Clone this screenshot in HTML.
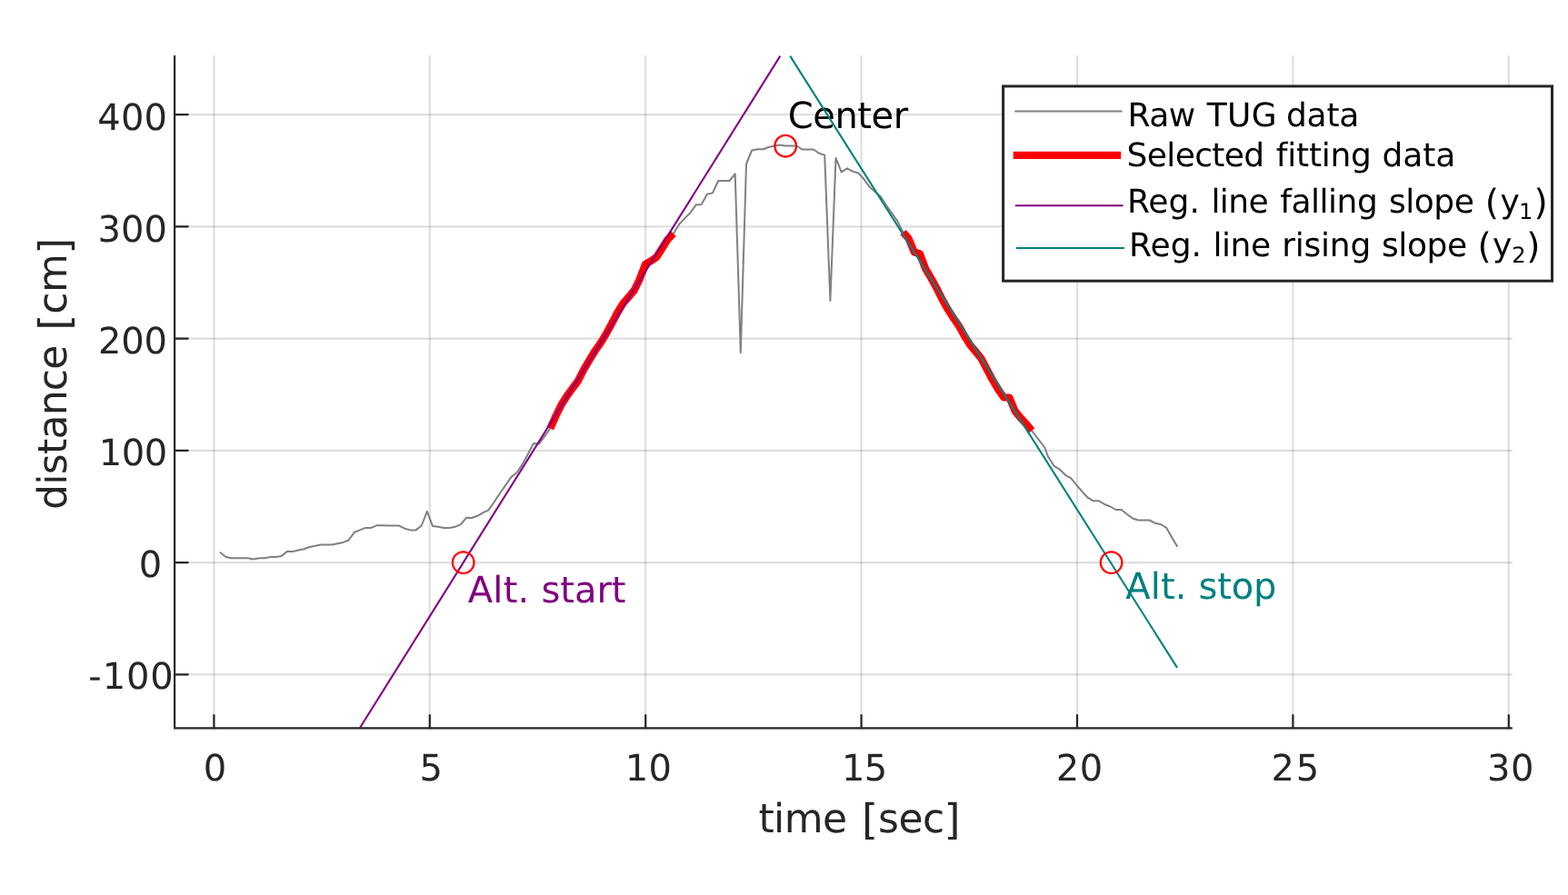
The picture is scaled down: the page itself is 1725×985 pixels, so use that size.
<!DOCTYPE html>
<html lang="en">
<head>
<meta charset="utf-8">
<title>TUG regression plot</title>
<style>
html,body{margin:0;padding:0;background:#fff;}
body{width:1725px;height:985px;overflow:hidden;}
svg{display:block;}
text{font-family:"DejaVu Sans", "Liberation Sans", sans-serif;white-space:pre;text-rendering:geometricPrecision;}
.tick{font-size:40px;fill:#262626;}
.lab{font-size:44px;fill:#262626;}
.leg{font-size:36px;fill:#000;}
.ann{font-size:40px;}
</style>
</head>
<body>
<svg width="1725" height="985" viewBox="0 0 1725 985">
<rect x="0" y="0" width="1725" height="985" fill="#ffffff"/>
<g stroke="#262626" stroke-opacity="0.15" stroke-width="2.2" fill="none">
<line x1="235.4" y1="61.0" x2="235.4" y2="801.3"/>
<line x1="472.8" y1="61.0" x2="472.8" y2="801.3"/>
<line x1="710.2" y1="61.0" x2="710.2" y2="801.3"/>
<line x1="947.6" y1="61.0" x2="947.6" y2="801.3"/>
<line x1="1185.0" y1="61.0" x2="1185.0" y2="801.3"/>
<line x1="1422.4" y1="61.0" x2="1422.4" y2="801.3"/>
<line x1="1659.8" y1="61.0" x2="1659.8" y2="801.3"/>
<line x1="192.1" y1="742.4" x2="1663.8" y2="742.4"/>
<line x1="192.1" y1="619.1" x2="1663.8" y2="619.1"/>
<line x1="192.1" y1="495.8" x2="1663.8" y2="495.8"/>
<line x1="192.1" y1="372.6" x2="1663.8" y2="372.6"/>
<line x1="192.1" y1="249.3" x2="1663.8" y2="249.3"/>
<line x1="192.1" y1="126.1" x2="1663.8" y2="126.1"/>
</g>
<text class="ann" y="140.6" fill="#000000"><tspan x="866.85" letter-spacing="-0.48">Center</tspan></text>
<text class="ann" y="662.9" fill="#800080"><tspan x="514.75" letter-spacing="0.22">Alt.</tspan> <tspan x="595.55" letter-spacing="-0.05">start</tspan></text>
<text class="ann" y="658.8" fill="#008080"><tspan x="1238.15" letter-spacing="0.15">Alt.</tspan> <tspan x="1318.55" letter-spacing="-0.20">stop</tspan></text>
<g fill="none">
<polyline stroke="#808080" stroke-width="2" stroke-linejoin="round" points="241.9,607.8 248.1,612.8 254.3,614.2 260.4,614.2 266.6,614.2 272.7,614.2 278.9,615.4 285.1,614.2 291.2,614.2 297.4,613.0 303.5,613.0 309.7,611.9 315.9,606.9 322.0,606.9 328.2,605.6 334.3,604.3 340.5,602.0 346.7,600.8 352.8,599.5 359.0,599.5 365.1,599.6 371.3,598.2 377.5,596.9 383.6,594.5 389.8,585.8 395.9,583.4 402.1,580.9 408.3,580.9 414.4,578.3 420.6,578.3 426.7,578.4 432.9,578.6 439.1,578.6 445.2,581.7 451.4,583.4 457.5,583.4 463.7,578.5 469.9,562.9 476.0,579.1 482.2,579.8 488.3,581.0 494.5,581.0 500.7,579.8 506.8,577.1 513.0,569.8 519.1,570.0 525.3,567.8 531.5,564.1 537.6,561.3 543.8,552.3 549.9,543.0 556.1,534.1 562.3,525.1 568.4,520.2 574.6,511.1 580.7,499.9 586.9,488.0 593.1,488.5 599.2,480.1 605.4,471.5 611.5,457.8 617.7,445.3 623.9,435.5 630.0,427.1 636.2,418.7 642.3,406.7 648.5,396.2 654.7,386.0 660.8,377.3 667.0,367.1 673.1,356.0 679.3,344.0 685.5,333.9 691.6,326.8 697.8,319.5 703.9,306.7 710.1,290.5 716.3,287.2 722.4,282.8 728.6,273.0 734.7,263.3 740.9,257.2 747.1,246.9 753.2,240.4 759.4,234.3 765.5,225.6 771.7,224.9 777.9,213.8 784.0,212.4 790.2,199.0 796.3,199.0 802.5,199.0 808.7,191.4 814.8,388.0 821.0,180.5 827.1,165.5 833.3,164.2 839.5,164.2 845.6,162.0 851.8,160.5 857.9,159.4 864.1,160.5 870.3,160.5 876.4,160.5 882.6,164.5 888.7,164.5 894.9,164.5 901.1,168.8 907.2,170.6 913.4,331.0 919.5,173.9 925.7,189.4 931.9,185.3 938.0,188.7 944.2,190.4 950.3,197.0 956.5,205.6 962.7,211.2 968.8,216.3 975.0,226.0 981.1,234.5 987.3,243.4 993.5,255.6 999.6,262.5 1005.8,277.5 1011.9,279.2 1018.1,295.5 1024.3,306.0 1030.4,317.1 1036.6,329.5 1042.7,340.4 1048.9,350.0 1055.1,359.0 1061.2,370.0 1067.4,379.9 1073.5,387.1 1079.7,394.8 1085.9,406.8 1092.0,418.2 1098.2,428.6 1104.3,437.5 1110.5,437.5 1116.7,452.5 1122.8,459.8 1129.0,466.7 1135.1,474.0 1141.3,482.2 1149.3,492.5 1153.0,502.5 1159.8,513.1 1165.9,516.7 1172.1,522.8 1178.3,526.3 1184.4,534.0 1190.6,541.1 1196.7,547.7 1202.9,551.3 1209.1,551.3 1215.2,555.0 1221.4,557.5 1227.5,561.0 1233.7,561.0 1239.9,566.0 1246.0,570.5 1252.2,572.5 1258.3,572.5 1264.5,572.5 1270.7,575.7 1276.8,577.0 1283.0,580.6 1289.1,591.2 1295.3,601.7"/>
<polyline stroke="#ff0000" stroke-width="8.2" stroke-linejoin="round" points="605.4,471.5 611.5,457.8 617.7,445.3 623.9,435.5 630.0,427.1 636.2,418.7 642.3,406.7 648.5,396.2 654.7,386.0 660.8,377.3 667.0,367.1 673.1,356.0 679.3,344.0 685.5,333.9 691.6,326.8 697.8,319.5 703.9,306.7 710.1,290.5 716.3,287.2 722.4,282.8 728.6,273.0 734.7,263.3 740.9,257.2"/>
<polyline stroke="#ff0000" stroke-width="8.2" stroke-linejoin="round" points="993.5,255.6 999.6,262.5 1005.8,277.5 1011.9,279.2 1018.1,295.5 1024.3,306.0 1030.4,317.1 1036.6,329.5 1042.7,340.4 1048.9,350.0 1055.1,359.0 1061.2,370.0 1067.4,379.9 1073.5,387.1 1079.7,394.8 1085.9,406.8 1092.0,418.2 1098.2,428.6 1104.3,437.5 1110.5,437.5 1116.7,452.5 1122.8,459.8 1129.0,466.7 1135.1,474.0"/>
<line stroke="#800080" stroke-width="2.1" x1="395.8" y1="801.3" x2="858.3" y2="61.6"/>
<line stroke="#008080" stroke-width="2.1" x1="869.2" y1="61.6" x2="1295.1" y2="734.9"/>
<circle cx="864.2" cy="160.7" r="11.8" stroke="#ff0000" stroke-width="2.3"/>
<circle cx="509.7" cy="619.1" r="11.8" stroke="#ff0000" stroke-width="2.3"/>
<circle cx="1222.6" cy="619.1" r="11.8" stroke="#ff0000" stroke-width="2.3"/>
</g>
<g stroke="#262626" stroke-width="2.2" fill="none" stroke-linecap="round">
<polyline stroke-linejoin="miter" stroke-linecap="butt" points="192.1,61.0 192.1,801.3 1663.8,801.3"/>
<line x1="235.4" y1="801.3" x2="235.4" y2="787.0"/>
<line x1="472.8" y1="801.3" x2="472.8" y2="787.0"/>
<line x1="710.2" y1="801.3" x2="710.2" y2="787.0"/>
<line x1="947.6" y1="801.3" x2="947.6" y2="787.0"/>
<line x1="1185.0" y1="801.3" x2="1185.0" y2="787.0"/>
<line x1="1422.4" y1="801.3" x2="1422.4" y2="787.0"/>
<line x1="1659.8" y1="801.3" x2="1659.8" y2="787.0"/>
<line x1="192.1" y1="742.4" x2="206.7" y2="742.4"/>
<line x1="192.1" y1="619.1" x2="206.7" y2="619.1"/>
<line x1="192.1" y1="495.8" x2="206.7" y2="495.8"/>
<line x1="192.1" y1="372.6" x2="206.7" y2="372.6"/>
<line x1="192.1" y1="249.3" x2="206.7" y2="249.3"/>
<line x1="192.1" y1="126.1" x2="206.7" y2="126.1"/>
</g>
<g class="tick">
<text class="tick" y="858.8"><tspan x="223.75">0</tspan></text>
<text class="tick" y="858.8"><tspan x="461.60">5</tspan></text>
<text class="tick" y="858.8"><tspan x="687.80" letter-spacing="0.25">10</tspan></text>
<text class="tick" y="858.8"><tspan x="925.90" letter-spacing="-0.50">15</tspan></text>
<text class="tick" y="858.8"><tspan x="1161.70" letter-spacing="0.55">20</tspan></text>
<text class="tick" y="858.8"><tspan x="1398.60" letter-spacing="1.70">25</tspan></text>
<text class="tick" y="858.8"><tspan x="1636.10" letter-spacing="0.45">30</tspan></text>
<text class="tick" y="142.6"><tspan x="107.30" letter-spacing="0.18">400</tspan></text>
<text class="tick" y="265.8"><tspan x="107.50" letter-spacing="0.03">300</tspan></text>
<text class="tick" y="389.1"><tspan x="108.10" letter-spacing="-0.27">200</tspan></text>
<text class="tick" y="512.1"><tspan x="108.80" letter-spacing="-0.52">100</tspan></text>
<text class="tick" y="635.3"><tspan x="152.65">0</tspan></text>
<text class="tick" y="758.2"><tspan x="97.30" letter-spacing="0.90">-100</tspan></text>
</g>
<text class="lab" y="915.6"><tspan x="834.45" letter-spacing="-0.62">time</tspan> <tspan x="947.95" dy="2.7" font-size="46.3">[</tspan><tspan dy="-2.7" letter-spacing="-0.53">sec</tspan><tspan dy="2.7" font-size="46.3">]</tspan></text>
<text class="lab" transform="translate(72.9,0) rotate(-90)" y="0"><tspan x="-561.00" letter-spacing="-0.73">distance</tspan> <tspan x="-363.75" dy="2.7" font-size="46.3">[</tspan><tspan dy="-2.7" letter-spacing="-0.55">cm</tspan><tspan dy="2.7" font-size="46.3">]</tspan></text>
<rect x="1103.6" y="94.9" width="603.9" height="214.3" fill="#ffffff" stroke="#262626" stroke-width="3"/>
<line x1="1116.3" y1="122.5" x2="1234.7" y2="122.5" stroke="#808080" stroke-width="2"/>
<line x1="1114.7" y1="170.9" x2="1233.2" y2="170.9" stroke="#ff0000" stroke-width="8.4"/>
<line x1="1116.8" y1="226.2" x2="1235.5" y2="226.2" stroke="#800080" stroke-width="2"/>
<line x1="1118.0" y1="272.9" x2="1236.9" y2="272.9" stroke="#008080" stroke-width="2"/>
<text class="leg" y="138.9"><tspan x="1240.50" letter-spacing="-0.52">Raw</tspan> <tspan x="1327.70" letter-spacing="0.42">TUG</tspan> <tspan x="1415.00" letter-spacing="-0.25">data</tspan></text>
<text class="leg" y="182.8"><tspan x="1239.50" letter-spacing="-0.62">Selected</tspan> <tspan x="1403.85" letter-spacing="-0.25">fitting</tspan> <tspan x="1520.40" letter-spacing="-0.02">data</tspan></text>
<text class="leg" y="233.7"><tspan x="1239.90" letter-spacing="0.07">Reg.</tspan> <tspan x="1332.50" letter-spacing="-0.63">line</tspan> <tspan x="1408.35" letter-spacing="-0.50">falling</tspan> <tspan x="1528.00" letter-spacing="-0.49">slope</tspan> <tspan x="1633.70" font-size="39" dy="2.4">(</tspan><tspan x="1650.60" dy="-2.4">y</tspan><tspan x="1670.90" font-size="24" dy="7">1</tspan><tspan x="1687.50" font-size="39" dy="-4.6">)</tspan></text>
<text class="leg" y="282.0"><tspan x="1242.10" letter-spacing="0.03">Reg.</tspan> <tspan x="1334.60" letter-spacing="-0.50">line</tspan> <tspan x="1410.25" letter-spacing="-0.25">rising</tspan> <tspan x="1519.90" letter-spacing="-0.36">slope</tspan> <tspan x="1625.50" font-size="39" dy="2.4">(</tspan><tspan x="1642.00" dy="-2.4">y</tspan><tspan x="1663.20" font-size="24" dy="7">2</tspan><tspan x="1679.30" font-size="39" dy="-4.6">)</tspan></text>
</svg>
</body>
</html>
